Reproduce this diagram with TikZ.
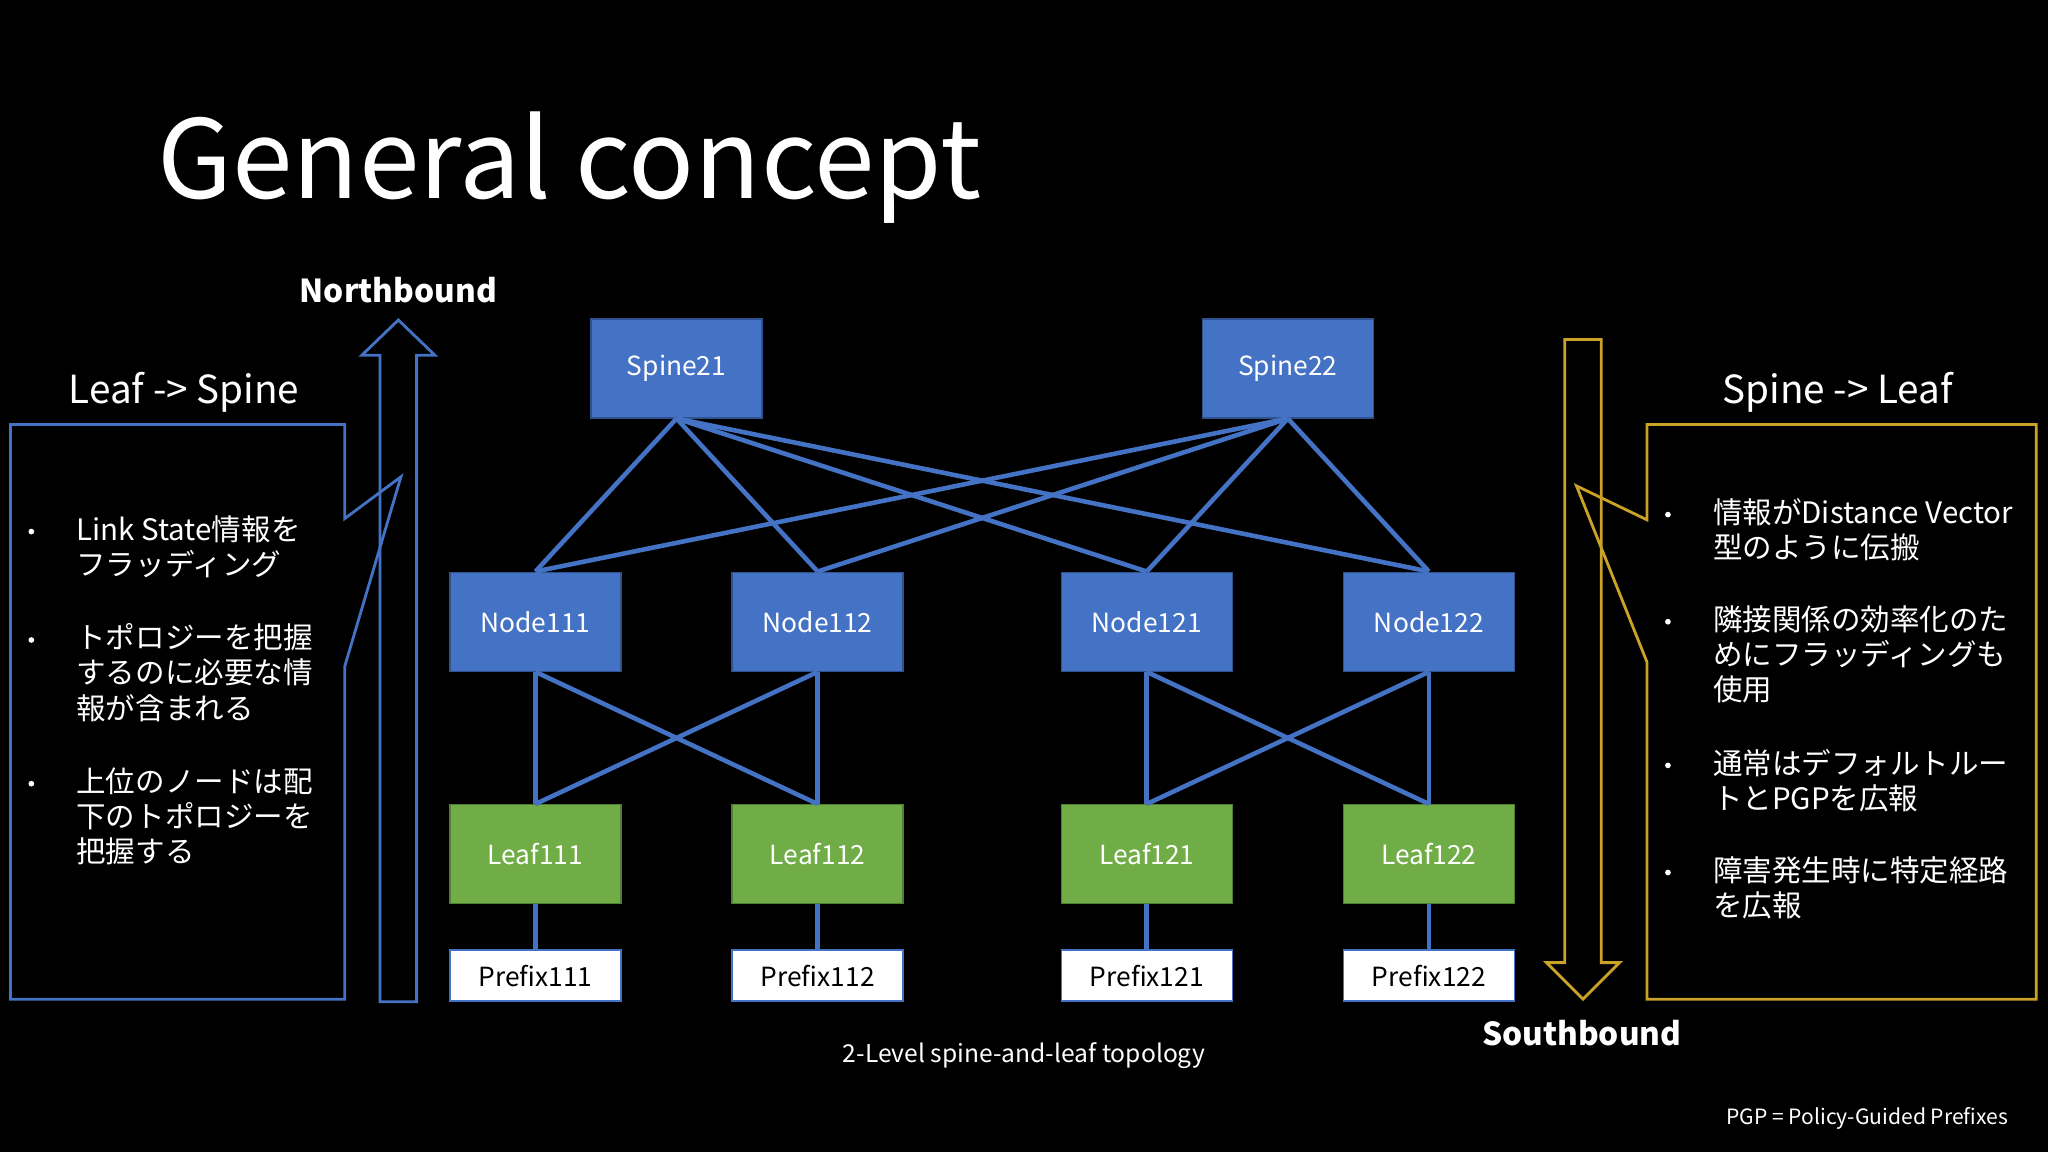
\documentclass[tikz,border=0pt]{standalone}
\usepackage{fontspec}
\setmainfont{Noto Sans CJK JP}
\definecolor{boxblue}{HTML}{4472C4}
\definecolor{boxedge}{HTML}{2F528F}
\definecolor{leafgreen}{HTML}{70AD47}
\definecolor{leafedge}{HTML}{507E32}
\definecolor{gold}{HTML}{C9A227}
\begin{document}
\begin{tikzpicture}[x=0.01306cm,y=-0.01306cm,
  box/.style={shape=rectangle,draw=boxedge,fill=boxblue,text=white,minimum width=1.71cm,minimum height=0.99cm,inner sep=0pt,font=\fontsize{7.5}{9}\selectfont},
  leaf/.style={box,fill=leafgreen,draw=leafedge},
  pfxbox/.style={box,fill=white,draw=boxblue,text=black,minimum height=0.51cm},
  link/.style={draw=boxblue,line width=1.3pt},
  txt/.style={text=white,align=left,anchor=north west,inner sep=0pt,font=\fontsize{8.4}{10}\selectfont}]
    \fill[black] (0,0) rectangle (1568,882);
    \useasboundingbox (0,0) rectangle (1568,882);
    % title
    \node[text=white,anchor=base west,inner sep=0pt,font=\fontsize{31}{36}\selectfont] (title) at (120,152) {General concept};
    % topology
    \node[box] (s21) at (518,282) {Spine21};
    \node[box] (s22) at (986,282) {Spine22};
    \node[box] (n111) at (410,476) {Node111};
    \node[box] (n112) at (626,476) {Node112};
    \node[box] (n121) at (878,476) {Node121};
    \node[box] (n122) at (1094,476) {Node122};
    \node[leaf] (l111) at (410,654) {Leaf111};
    \node[leaf] (l112) at (626,654) {Leaf112};
    \node[leaf] (l121) at (878,654) {Leaf121};
    \node[leaf] (l122) at (1094,654) {Leaf122};
    \node[pfxbox] (p111) at (410,747) {Prefix111};
    \node[pfxbox] (p112) at (626,747) {Prefix112};
    \node[pfxbox] (p121) at (878,747) {Prefix121};
    \node[pfxbox] (p122) at (1094,747) {Prefix122};
    \foreach \s in {s21,s22}
      \foreach \n in {n111,n112,n121,n122}
        \path[link] (\s.south) -- (\n.north);
    \foreach \a/\b in {111/112,121/122} {
      \path[link] (n\a.south) -- (l\a.north);
      \path[link] (n\a.south) -- (l\b.north);
      \path[link] (n\b.south) -- (l\a.north);
      \path[link] (n\b.south) -- (l\b.north);
    }
    \foreach \i in {111,112,121,122}
      \path[link] (l\i.south) -- (p\i.north);
    \node[text=white,font=\fontsize{7}{8}\selectfont] (cap) at (784,808) {2-Level spine-and-leaf topology};
    \node[text=white,anchor=east,font=\fontsize{6}{7}\selectfont] (pgp) at (1547,856) {PGP = Policy-Guided Prefixes};
    % northbound
    \draw[boxblue,line width=0.8pt] (291,767) -- (291,272) -- (277,272) -- (305,245) -- (333,272) -- (319,272) -- (319,767) -- cycle;
    \node[text=white,font=\bfseries\fontsize{9}{10}\selectfont] (nb) at (305,222) {Northbound};
    % southbound
    \draw[gold,line width=0.8pt] (1198,260) -- (1198,737) -- (1184,737) -- (1212,765) -- (1240,737) -- (1226,737) -- (1226,260) -- cycle;
    \node[text=white,font=\bfseries\fontsize{9}{10}\selectfont] (sb) at (1211,791) {Southbound};
    % left callout
    \draw[boxblue,line width=0.8pt] (8,325) -- (264,325) -- (264,397) -- (307,365) -- (264,510) -- (264,765) -- (8,765) -- cycle;
    \node[text=white,font=\fontsize{11}{13}\selectfont] (ls) at (141,300) {Leaf -> Spine};
    \node[txt] (lb1) at (58,394) {Link State情報を\\フラッディング};
    \node[txt] (lb2) at (58,477) {トポロジーを把握\\するのに必要な情\\報が含まれる};
    \node[txt] (lb3) at (58,587) {上位のノードは配\\下のトポロジーを\\把握する};
    \foreach \y in {407,490,600}
      \fill[white] (24,\y) circle (2.2);
    % right callout
    \draw[gold,line width=0.8pt] (1261,325) -- (1559,325) -- (1559,765) -- (1261,765) -- (1261,507) -- (1207,372) -- (1261,398) -- cycle;
    \node[text=white,font=\fontsize{11}{13}\selectfont] (sl) at (1407,300) {Spine -> Leaf};
    \node[txt] (rb1) at (1311,381) {情報がDistance Vector\\型のように伝搬};
    \node[txt] (rb2) at (1311,463) {隣接関係の効率化のた\\めにフラッディングも\\使用};
    \node[txt] (rb3) at (1311,573) {通常はデフォルトルー\\トとPGPを広報};
    \node[txt] (rb4) at (1311,655) {障害発生時に特定経路\\を広報};
    \foreach \y in {394,476,586,668}
      \fill[white] (1277,\y) circle (2.2);
\end{tikzpicture}
\end{document}
